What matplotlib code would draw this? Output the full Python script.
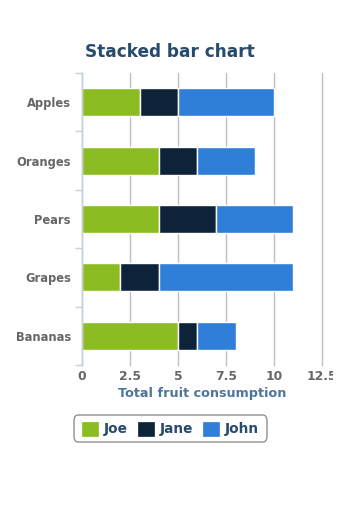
import matplotlib
matplotlib.use("Agg")
import matplotlib.pyplot as plt
from matplotlib.patches import FancyBboxPatch, Rectangle
from matplotlib.transforms import Bbox, TransformedBbox

categories = ["Apples", "Oranges", "Pears", "Grapes", "Bananas"]
series_names = ["Joe", "Jane", "John"]
joe = [3, 4, 4, 2, 5]
jane = [2, 2, 3, 2, 1]
john = [5, 3, 4, 7, 2]
series_values = [joe, jane, john]
colors = ["#8BBC21", "#0D233A", "#2F7ED8"]
xticks = [0, 2.5, 5, 7.5, 10, 12.5]
xtick_labels = ["0", "2.5", "5", "7.5", "10", "12.5"]

W, H = 341, 512
fig = plt.figure(figsize=(W / 100, H / 100), dpi=100)
fig.patch.set_facecolor("white")

L, R, T, B = 82, 322, 73, 365
ax = fig.add_axes([L / W, 1 - B / H, (R - L) / W, (B - T) / H])

font = "DejaVu Sans"
ypos = list(range(len(categories)))
left = [0] * len(categories)
for name, vals, c in zip(series_names, series_values, colors):
    ax.barh(ypos, vals, left=left, height=0.48, color=c, edgecolor="white",
            linewidth=1, zorder=3, label=name)
    left = [a + b for a, b in zip(left, vals)]

ax.set_xlim(0, 12.5)
ax.set_ylim(len(categories) - 0.5, -0.5)
ax.set_xticks(xticks)
ax.set_xticklabels([])
ax.set_yticks(ypos)
ax.set_yticklabels(categories, fontsize=8.3, fontweight="bold", color="#666666",
                   family=font)
ax.tick_params(axis="y", length=0, pad=8)
ax.tick_params(axis="x", length=0)
ax.set_yticks([i - 0.5 for i in range(len(categories) + 1)], minor=True)
ax.tick_params(axis="y", which="minor", length=5, color="#C0D0E0", width=1)

ax.grid(axis="x", color="#C0C0C0", linewidth=1, zorder=0)
for gl in ax.get_xgridlines():
    gl.set_clip_on(False)
for s in ["top", "right", "bottom"]:
    ax.spines[s].set_visible(False)
ax.spines["left"].set_color("#C0D0E0")
ax.spines["left"].set_linewidth(1)
ax.spines["left"].set_zorder(4)

clip = TransformedBbox(Bbox([[0, 0], [333 / W, 1]]), fig.transFigure)
for v, lab in zip(xticks, xtick_labels):
    x = L + (R - L) * v / 12.5
    t = fig.text(x / W, 1 - 377 / H, lab, ha="center", va="center", fontsize=8.8,
                 fontweight="bold", color="#666666", family=font)
    t.set_clip_box(clip)
    t.set_clip_on(True)

fig.text(170 / W, 1 - 52 / H, "Stacked bar chart", ha="center", va="center",
         fontsize=12.2, fontweight="bold", color="#274B6D", family=font)
fig.text((L + R) / 2 / W, 1 - 394 / H, "Total fruit consumption", ha="center",
         va="center", fontsize=9.2, fontweight="bold", color="#4D759E", family=font)

box = FancyBboxPatch((74 / W, 1 - 442 / H), (267 - 74) / W, (442 - 415) / H,
                     boxstyle="round,pad=0,rounding_size=0.012",
                     transform=fig.transFigure, facecolor="white",
                     edgecolor="#909090", linewidth=1)
fig.add_artist(box)
items = [(82, 104), (138, 160), (203, 225)]
for (mx, tx), name, c in zip(items, series_names, colors):
    fig.add_artist(Rectangle((mx / W, 1 - 436 / H), 16 / W, 14 / H,
                             transform=fig.transFigure, facecolor=c,
                             edgecolor=c, linewidth=0.5))
    fig.text(tx / W, 1 - 429 / H, name, ha="left", va="center", fontsize=9.8,
             fontweight="bold", color="#274B6D", family=font)

fig.savefig("out.png", dpi=100)
